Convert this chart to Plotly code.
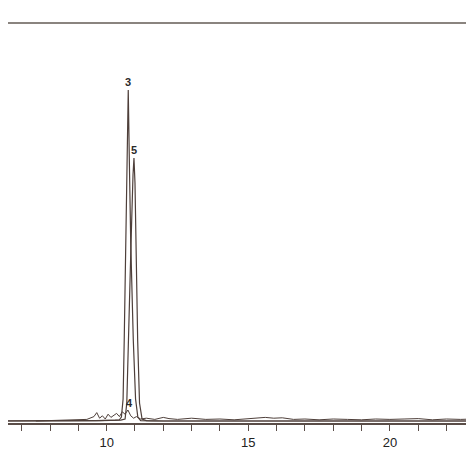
import plotly.graph_objects as go

# Chromatogram overlay (retention time in min, relative response)
peak3_time = [6.3, 8.0, 9.6, 10.30, 10.45, 10.52, 10.58, 10.62, 10.68, 10.735, 10.762,
              10.80, 10.85, 10.94, 11.02, 11.10, 11.20, 11.6, 14.0, 18.0, 22.9]
peak3_resp = [0.5, 0.5, 0.6, 0.7, 0.8, 1.5, 6.0, 20.75, 45.0, 65.75, 83.25,
              65.75, 45.0, 20.75, 6.0, 1.5, 0.6, 0.5, 0.5, 0.5, 0.5]

peak5_time = [6.3, 8.0, 9.8, 10.50, 10.65, 10.71, 10.762, 10.86, 10.93, 10.964,
              11.00, 11.03, 11.094, 11.16, 11.25, 11.40, 12.0, 16.0, 22.9]
peak5_resp = [0.5, 0.5, 0.6, 0.7, 1.0, 5.0, 20.75, 45.0, 62.0, 66.25,
              60.0, 45.0, 20.75, 5.0, 1.0, 0.6, 0.5, 0.5, 0.5]

noise_time = [7.5, 8.2, 8.9, 9.3, 9.55, 9.65, 9.75, 9.85, 9.95, 10.05, 10.15,
              10.25, 10.35, 10.45, 10.55, 10.65, 10.75, 10.85, 10.95, 11.05,
              11.2, 11.4, 11.7, 12.0, 12.2, 12.5, 13.0, 13.5, 14.0, 14.5,
              15.0, 15.3, 15.6, 15.9, 16.2, 16.6, 17.0, 17.5, 18.0, 18.5,
              19.0, 19.5, 20.0, 20.5, 21.0, 21.5, 22.0, 22.5, 22.95]
noise_resp = [0.5, 0.6, 0.7, 0.9, 1.6, 2.6, 1.2, 1.8, 1.0, 2.2, 1.4,
              1.8, 2.4, 1.6, 2.8, 2.2, 3.25, 1.8, 1.2, 1.6,
              1.0, 1.2, 0.9, 1.4, 1.1, 0.9, 1.2, 0.9, 1.0, 0.8,
              1.0, 1.3, 1.4, 1.2, 1.3, 0.9, 1.0, 0.8, 1.0, 0.9,
              0.8, 1.0, 0.9, 1.0, 1.1, 0.8, 1.0, 0.9, 1.0]

peak_labels = ["3", "5", "4"]
label_time = [10.76, 10.97, 10.79]
label_resp = [85.3, 68.3, 5.0]

line_color = "#4e3f3a"
axis_color = "#5a4d48"

fig = go.Figure()
for t, r, w in [(noise_time, noise_resp, 1.0),
                (peak3_time, peak3_resp, 1.2),
                (peak5_time, peak5_resp, 1.2)]:
    fig.add_trace(go.Scatter(x=t, y=r, mode="lines",
                             line=dict(color=line_color, width=w),
                             showlegend=False))

for lab, t, r in zip(peak_labels, label_time, label_resp):
    fig.add_annotation(x=t, y=r, text="<b>" + lab + "</b>", showarrow=False,
                       font=dict(family="Liberation Sans, Arial", size=11, color="#2a2a2a"))

# grey frame line along the top
fig.add_shape(type="line", xref="paper", yref="paper", x0=0, x1=1, y0=1, y1=1,
              line=dict(color="#8a847f", width=2))

# page body has an 8px margin, so the figure is sized to end at the window edge
fig.update_layout(
    width=466, height=466,
    margin=dict(l=0, r=0, t=15, b=51),
    plot_bgcolor="white", paper_bgcolor="white",
    xaxis=dict(range=[6.516, 22.97], dtick=5, tick0=0,
               ticks="outside", ticklen=6, tickcolor=axis_color,
               showline=True, linecolor=axis_color, linewidth=2,
               showgrid=False, zeroline=False,
               minor=dict(dtick=1, ticks="outside", ticklen=6, tickcolor=axis_color, showgrid=False),
               tickfont=dict(family="Liberation Sans, Arial", size=13, color="#222222")),
    yaxis=dict(range=[0, 100], visible=False),
)

fig.write_html("out.html")
